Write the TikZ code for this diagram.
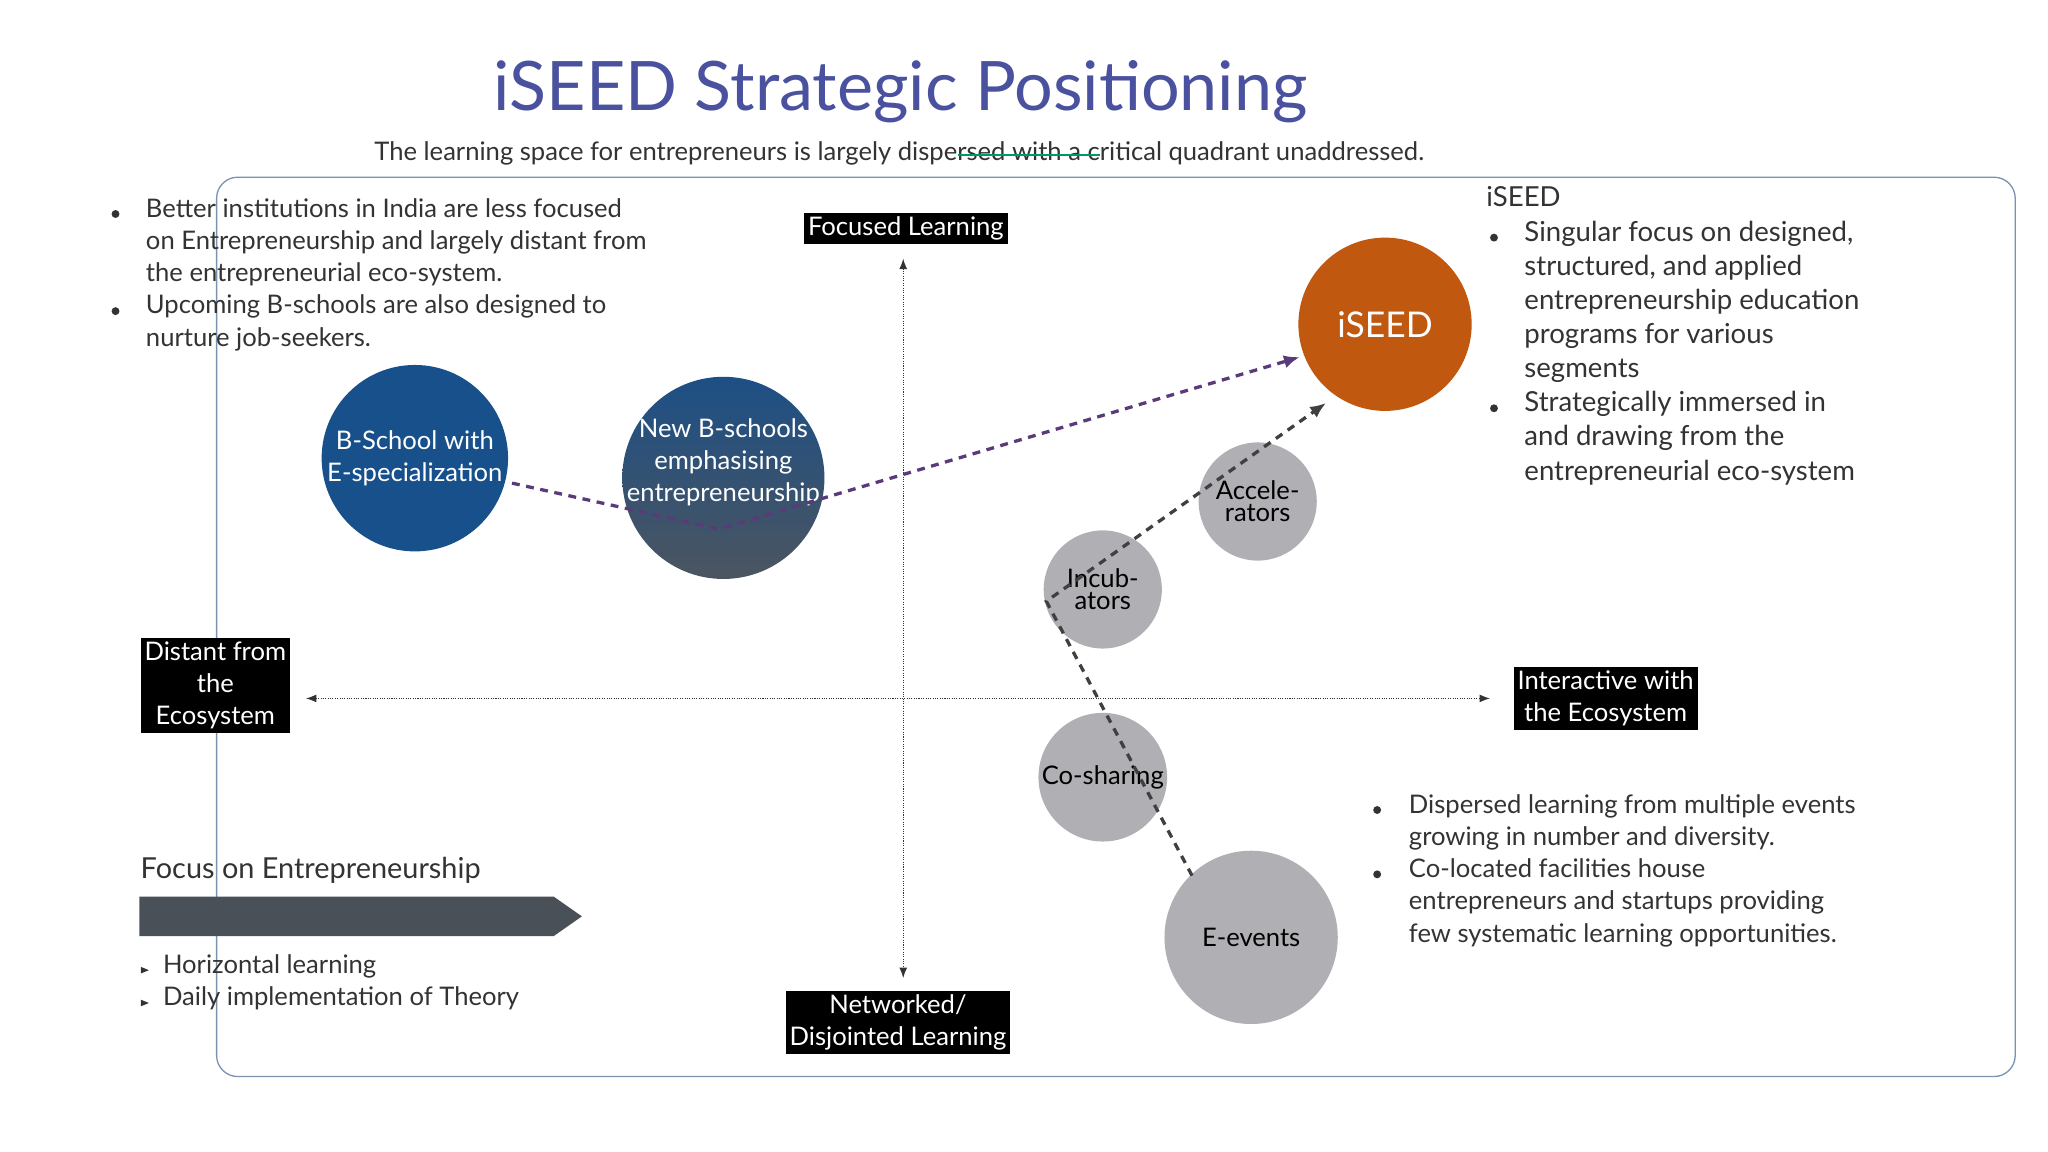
\documentclass[tikz,border=0pt]{standalone}
\usepackage{fontspec}
\setmainfont{Lato}
\usetikzlibrary{arrows.meta,shapes.arrows,shapes.geometric}
\definecolor{titleblue}{HTML}{4A52A0}
\definecolor{bblue}{HTML}{17508A}
\definecolor{gblue}{HTML}{1D4F85}
\definecolor{gslate}{HTML}{4B5560}
\definecolor{orng}{HTML}{C0580F}
\definecolor{cgray}{HTML}{B0AFB3}
\definecolor{purp}{HTML}{5A3A78}
\definecolor{txt}{HTML}{333333}
\definecolor{frame}{HTML}{7C93B0}
\definecolor{arr}{HTML}{4A5058}
\tikzset{
 body/.style={font=\fontsize{19.5}{24.5}\selectfont, text=txt, anchor=north west, inner sep=0, align=left},
 lbl/.style={fill=black, text=white, font=\fontsize{19.5}{24.5}\selectfont, align=center, inner sep=3pt},
 circ/.style={circle, fill=cgray, text=black, font=\fontsize{19.5}{17}\selectfont, align=center, inner sep=0},
 bul/.style={circle, fill=txt, inner sep=0, minimum size=6pt},
 tri/.style={isosceles triangle, fill=txt, inner sep=0, minimum width=5pt, minimum height=4pt},
 ax/.style={densely dotted, thick, black!80, {Latex[length=8pt,width=6pt]}-{Latex[length=8pt,width=6pt]}},
}
\begin{document}
\begin{tikzpicture}[x=1pt,y=-1pt]
\useasboundingbox[fill=white] (0,0) rectangle (1560,877.5);
\draw[frame, line width=1pt, rounded corners=16pt] (165,135) rectangle (1535,820);
\node[text=titleblue, font=\fontsize{52}{60}\selectfont] (title) at (686,70) {iSEED Strategic Positioning};
\node[text=txt, font=\fontsize{19.5}{24}\selectfont] (sub) at (685,117) {The learning space for entrepreneurs is largely dispersed with a critical quadrant unaddressed.};
\coordinate (g1) at (730,118); \coordinate (g2) at (838,118);
\draw[teal!80!green, line width=1pt] (g1) -- (g2);
% left bullets
\foreach \y in {163,237} \node[bul] at (88,\y) {};
\node[body] (lb) at (111,151) {Better institutions in India are less focused\\on Entrepreneurship and largely distant from\\the entrepreneurial eco-system.\\Upcoming B-schools are also designed to\\nurture job-seekers.};
% axes
\node[lbl] (fl) at (690,174) {Focused Learning};
\node[lbl] (nl) at (684,779) {Networked/\\Disjointed Learning};
\node[lbl] (de) at (164,522) {Distant from\\the\\Ecosystem};
\node[lbl] (ie) at (1223,532) {Interactive with\\the Ecosystem};
\coordinate (vt) at (688,197); \coordinate (vb) at (688,745);
\coordinate (hl) at (233,532); \coordinate (hr) at (1135,532);
\draw[ax] (vt) -- (vb);
\draw[ax] (hl) -- (hr);
% circles
\node[circle, fill=bblue, minimum size=142pt, text=white, font=\fontsize{19.5}{24.5}\selectfont, align=center, inner sep=0] (bs) at (316,349) {B-School with\\E-specialization};
\shade[top color=gblue, bottom color=gslate] (551,364) circle (77);
\node[circle, minimum size=154pt, text=white, font=\fontsize{19.5}{24.5}\selectfont, align=center, inner sep=0] (nb) at (551,352) {New B-schools\\emphasising\\entrepreneurship};
\node[circle, fill=orng, minimum size=132pt, text=white, font=\fontsize{27}{30}\selectfont, inner sep=0] (is) at (1055,247) {iSEED};
\node[circ, minimum size=90pt] (ac) at (958,382) {Accele-\\rators};
\node[circ, minimum size=90pt] (in) at (840,449) {Incub-\\ators};
\node[circ, minimum size=98pt] (co) at (840,592) {Co-sharing};
\node[circ, minimum size=132pt] (ev) at (953,714) {E-events};
% purple path
\coordinate (p1) at (390,368); \coordinate (p2) at (548,403); \coordinate (p3) at (632,378); \coordinate (p4) at (990,272);
\draw[purp, line width=2.5pt, dash pattern=on 6pt off 5pt, -{Latex[length=12pt,width=10pt]}] (p1) -- (p2) -- (p3) -- (p4);
% gray path
\coordinate (q1) at (908,667); \coordinate (q2) at (797,458); \coordinate (q3) at (1010,307);
\draw[black!75, line width=2.5pt, dash pattern=on 6pt off 5pt, -{Latex[length=12pt,width=10pt]}] (q1) -- (q2) -- (q3);
% right text
\node[body, font=\fontsize{21}{26}\selectfont] (ih) at (1132,142) {iSEED};
\foreach \y in {181,311} \node[bul] at (1138,\y) {};
\node[body, font=\fontsize{21}{26}\selectfont] (ib) at (1161,168) {Singular focus on designed,\\structured, and applied\\entrepreneurship education\\programs for various\\segments\\Strategically immersed in\\and drawing from the\\entrepreneurial eco-system};
\foreach \y in {617,666} \node[bul] at (1049,\y) {};
\node[body] (rb) at (1073,605) {Dispersed learning from multiple events\\growing in number and diversity.\\Co-located facilities house\\entrepreneurs and startups providing\\few systematic learning opportunities.};
% focus
\node[body, font=\fontsize{22}{26}\selectfont] (fe) at (107,653) {Focus on Entrepreneurship};
\node[single arrow, fill=arr, minimum height=337pt, minimum width=30pt, single arrow head extend=0pt, inner sep=0, single arrow tip angle=70, anchor=west] (fa) at (106,698) {};
\foreach \y in {739,764} \node[tri] at (109,\y) {};
\node[body] (hb) at (124,727) {Horizontal learning\\Daily implementation of Theory};
\end{tikzpicture}
\end{document}
